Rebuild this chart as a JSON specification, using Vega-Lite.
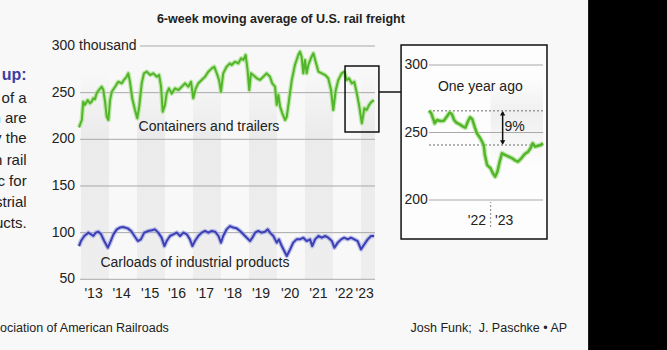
{
  "$schema": "https://vega.github.io/schema/vega-lite/v6.json",
  "width": 667,
  "height": 350,
  "autosize": {"type": "none"},
  "padding": 0,
  "background": "#f8f8f8",
  "config": {
    "view": {"stroke": null},
    "text": {"font": "Liberation Sans, Arial, sans-serif", "fontSize": 14, "color": "#222222", "baseline": "middle"}
  },
  "resolve": {"scale": {"x": "independent", "y": "independent"}},
  "datasets": {
    "green": [
      {"t":2012.93,"v":212.9},{"t":2013.03,"v":220.7},{"t":2013.08,"v":240.3},{"t":2013.14,"v":236.8},{"t":2013.24,"v":242},{"t":2013.32,"v":238.6},{"t":2013.38,"v":240.3},{"t":2013.44,"v":244},{"t":2013.5,"v":243},{"t":2013.56,"v":249.3},{"t":2013.64,"v":252.8},{"t":2013.74,"v":256.4},{"t":2013.8,"v":252.8},{"t":2013.86,"v":240.3},{"t":2013.92,"v":224.2},{"t":2013.98,"v":220.7},
      {"t":2014.04,"v":242},{"t":2014.1,"v":251},{"t":2014.22,"v":256.4},{"t":2014.33,"v":261.7},{"t":2014.46,"v":260},{"t":2014.55,"v":264.3},{"t":2014.63,"v":267},{"t":2014.69,"v":270.7},{"t":2014.75,"v":261.7},{"t":2014.83,"v":244},{"t":2014.93,"v":231.4},
      {"t":2015.01,"v":222.5},{"t":2015.08,"v":235},{"t":2015.17,"v":260},{"t":2015.25,"v":270.7},{"t":2015.35,"v":272.5},{"t":2015.47,"v":268.9},{"t":2015.58,"v":270.7},{"t":2015.71,"v":267},{"t":2015.79,"v":269},{"t":2015.86,"v":256.4},{"t":2015.92,"v":229.6},
      {"t":2016.0,"v":236.8},{"t":2016.06,"v":249.3},{"t":2016.14,"v":254.6},{"t":2016.24,"v":249},{"t":2016.36,"v":254.6},{"t":2016.48,"v":252.8},{"t":2016.6,"v":256.4},{"t":2016.72,"v":260},{"t":2016.83,"v":256.4},{"t":2016.93,"v":261.7},
      {"t":2017.01,"v":244},{"t":2017.1,"v":254.6},{"t":2017.19,"v":260},{"t":2017.31,"v":263.6},{"t":2017.43,"v":267},{"t":2017.55,"v":272.5},{"t":2017.67,"v":276},{"t":2017.76,"v":277.8},{"t":2017.85,"v":270.7},{"t":2017.93,"v":263.6},
      {"t":2018.0,"v":251},{"t":2018.08,"v":270.7},{"t":2018.2,"v":277.8},{"t":2018.32,"v":281.4},{"t":2018.38,"v":279.6},{"t":2018.5,"v":283.2},{"t":2018.62,"v":281.4},{"t":2018.72,"v":286.8},{"t":2018.8,"v":285},{"t":2018.88,"v":290.4},{"t":2018.95,"v":274.3},
      {"t":2019.01,"v":252.8},{"t":2019.07,"v":270.7},{"t":2019.15,"v":268.9},{"t":2019.28,"v":265.4},{"t":2019.39,"v":263.6},{"t":2019.51,"v":267},{"t":2019.63,"v":270.7},{"t":2019.75,"v":267},{"t":2019.83,"v":260},{"t":2019.93,"v":256.4},{"t":2019.99,"v":236.8},
      {"t":2020.05,"v":247.5},{"t":2020.11,"v":235},{"t":2020.19,"v":227.9},{"t":2020.29,"v":220.7},{"t":2020.35,"v":224.2},{"t":2020.43,"v":242},{"t":2020.53,"v":263.6},{"t":2020.64,"v":279.6},{"t":2020.76,"v":290.4},{"t":2020.82,"v":293.9},{"t":2020.88,"v":288.6},{"t":2020.94,"v":270.7},
      {"t":2021.0,"v":285},{"t":2021.06,"v":270.7},{"t":2021.12,"v":279.6},{"t":2021.21,"v":286.8},{"t":2021.3,"v":292.2},{"t":2021.38,"v":283.2},{"t":2021.48,"v":272.5},{"t":2021.6,"v":270.7},{"t":2021.72,"v":268.9},{"t":2021.83,"v":265.4},{"t":2021.93,"v":252.8},
      {"t":2022.01,"v":231.4},{"t":2022.1,"v":252.8},{"t":2022.19,"v":263.6},{"t":2022.31,"v":270.7},{"t":2022.4,"v":272.5},{"t":2022.49,"v":263.6},{"t":2022.57,"v":265.4},{"t":2022.67,"v":260},{"t":2022.76,"v":261.7},{"t":2022.85,"v":249.3},{"t":2022.93,"v":236.8},
      {"t":2023.03,"v":217.2},{"t":2023.12,"v":233.2},{"t":2023.2,"v":231.4},{"t":2023.29,"v":236.8},{"t":2023.38,"v":240.3},{"t":2023.46,"v":242}
    ],
    "blue": [
      {"t":2012.93,"v":85.6},{"t":2013.0,"v":91},{"t":2013.12,"v":96.4},{"t":2013.26,"v":100},{"t":2013.36,"v":98.2},{"t":2013.44,"v":96.4},{"t":2013.53,"v":100},{"t":2013.62,"v":101},{"t":2013.72,"v":98.2},{"t":2013.83,"v":91},{"t":2013.96,"v":83.9},
      {"t":2014.04,"v":89.3},{"t":2014.16,"v":98.2},{"t":2014.28,"v":103.5},{"t":2014.39,"v":105.4},{"t":2014.51,"v":106},{"t":2014.67,"v":104.6},{"t":2014.79,"v":101.8},{"t":2014.91,"v":96.4},
      {"t":2015.03,"v":91},{"t":2015.14,"v":92.8},{"t":2015.26,"v":100},{"t":2015.41,"v":101.8},{"t":2015.53,"v":102.5},{"t":2015.64,"v":103.5},{"t":2015.76,"v":100},{"t":2015.88,"v":94.6},{"t":2015.98,"v":85.6},
      {"t":2016.06,"v":91},{"t":2016.18,"v":96.4},{"t":2016.3,"v":98.2},{"t":2016.42,"v":100},{"t":2016.54,"v":96.4},{"t":2016.66,"v":100},{"t":2016.78,"v":98.2},{"t":2016.89,"v":92.8},{"t":2016.98,"v":85.6},
      {"t":2017.07,"v":91},{"t":2017.19,"v":96.4},{"t":2017.31,"v":100},{"t":2017.43,"v":101.8},{"t":2017.55,"v":100},{"t":2017.67,"v":101.8},{"t":2017.79,"v":101},{"t":2017.91,"v":96.4},
      {"t":2018.0,"v":89.3},{"t":2018.08,"v":96.4},{"t":2018.2,"v":103.5},{"t":2018.32,"v":107},{"t":2018.44,"v":105.4},{"t":2018.56,"v":104.6},{"t":2018.68,"v":101.8},{"t":2018.8,"v":98.2},{"t":2018.92,"v":94.6},
      {"t":2019.04,"v":91},{"t":2019.12,"v":94.6},{"t":2019.22,"v":100},{"t":2019.33,"v":101.8},{"t":2019.45,"v":100},{"t":2019.57,"v":101},{"t":2019.67,"v":103.5},{"t":2019.75,"v":100},{"t":2019.87,"v":96.4},{"t":2019.99,"v":89.3},
      {"t":2020.07,"v":92.8},{"t":2020.17,"v":85.6},{"t":2020.26,"v":80.3},{"t":2020.35,"v":74.9},{"t":2020.47,"v":82.1},{"t":2020.58,"v":89.3},{"t":2020.7,"v":92.8},{"t":2020.82,"v":92.8},{"t":2020.94,"v":94.6},
      {"t":2021.06,"v":91},{"t":2021.18,"v":92.8},{"t":2021.26,"v":85.6},{"t":2021.36,"v":92.8},{"t":2021.48,"v":96.4},{"t":2021.6,"v":94.6},{"t":2021.72,"v":96.4},{"t":2021.83,"v":94.6},{"t":2021.96,"v":91},
      {"t":2022.05,"v":83.9},{"t":2022.17,"v":89.3},{"t":2022.29,"v":92.8},{"t":2022.4,"v":94.6},{"t":2022.53,"v":92.8},{"t":2022.64,"v":94.6},{"t":2022.76,"v":92.8},{"t":2022.88,"v":91},
      {"t":2023.0,"v":82.1},{"t":2023.12,"v":87.5},{"t":2023.24,"v":92.8},{"t":2023.36,"v":96.4},{"t":2023.47,"v":96.4}
    ],
    "inset": [
      {"t":2022.46,"v":266.2},{"t":2022.48,"v":264.2},{"t":2022.51,"v":256.8},{"t":2022.53,"v":259.3},{"t":2022.56,"v":258.5},{"t":2022.59,"v":258.7},{"t":2022.62,"v":262.2},{"t":2022.64,"v":264.7},{"t":2022.66,"v":263.7},{"t":2022.68,"v":259.3},{"t":2022.7,"v":257.3},{"t":2022.73,"v":256},{"t":2022.76,"v":254.3},{"t":2022.78,"v":253.6},{"t":2022.8,"v":258},{"t":2022.82,"v":261.3},{"t":2022.84,"v":259.8},{"t":2022.86,"v":254.3},{"t":2022.88,"v":249.4},{"t":2022.91,"v":245.7},{"t":2022.94,"v":240.7},{"t":2022.95,"v":233.3},{"t":2022.97,"v":225.9},
      {"t":2023.0,"v":223.5},{"t":2023.02,"v":219.8},{"t":2023.04,"v":217.3},{"t":2023.06,"v":221},{"t":2023.08,"v":228.4},{"t":2023.1,"v":234.6},{"t":2023.13,"v":233.3},{"t":2023.16,"v":232.1},{"t":2023.19,"v":230.9},{"t":2023.21,"v":229.6},{"t":2023.24,"v":228.4},{"t":2023.27,"v":230.9},{"t":2023.3,"v":234.1},{"t":2023.33,"v":235.8},{"t":2023.35,"v":238.3},{"t":2023.37,"v":242},{"t":2023.39,"v":239.5},{"t":2023.41,"v":240},{"t":2023.44,"v":240.7},{"t":2023.46,"v":242}
    ]
  },
  "layer": [
    {
      "data": {"values": [{"a":2013,"b":2014},{"a":2015,"b":2016},{"a":2017,"b":2018},{"a":2019,"b":2020},{"a":2021,"b":2022},{"a":2023,"b":2023.5}]},
      "mark": {"type": "rect", "color": {"gradient": "linear", "x1": 0, "y1": 0, "x2": 0, "y2": 1, "stops": [{"offset": 0, "color": "#f8f8f8"}, {"offset": 0.3, "color": "#ebebeb"}, {"offset": 1, "color": "#eeeeee"}]}},
      "encoding": {
        "x": {"field": "a", "type": "quantitative", "scale": {"domain": [2012.93, 2023.5], "range": [79, 375], "nice": false, "zero": false}, "axis": null},
        "x2": {"field": "b"},
        "y": {"datum": 272, "type": "quantitative", "scale": {"domain": [50, 300], "range": [279.3, 46], "nice": false, "zero": false}, "axis": null},
        "y2": {"datum": 50}
      }
    },
    {
      "data": {"values": [{"v":300,"a":2015.11,"b":2023.5},{"v":250,"a":2012.965,"b":2023.5},{"v":200,"a":2012.965,"b":2023.5},{"v":150,"a":2012.965,"b":2023.5},{"v":100,"a":2012.965,"b":2023.5},{"v":50,"a":2012.965,"b":2023.5}]},
      "mark": {"type": "rule", "color": "#a9a9a9", "strokeWidth": 1},
      "encoding": {
        "x": {"field": "a", "type": "quantitative", "scale": {"domain": [2012.93, 2023.5], "range": [79, 375], "nice": false, "zero": false}, "axis": null},
        "x2": {"field": "b"},
        "y": {"field": "v", "type": "quantitative", "scale": {"domain": [50, 300], "range": [279.3, 46], "nice": false, "zero": false}, "axis": null}
      }
    },
    {
      "data": {"name": "green"},
      "mark": {"type": "line", "color": "#a8df8a", "strokeWidth": 4.5, "opacity": 0.7, "strokeJoin": "round"},
      "encoding": {
        "x": {"field": "t", "type": "quantitative", "scale": {"domain": [2012.93, 2023.5], "range": [79, 375], "nice": false, "zero": false}, "axis": null},
        "y": {"field": "v", "type": "quantitative", "scale": {"domain": [50, 300], "range": [279.3, 46], "nice": false, "zero": false}, "axis": null}
      }
    },
    {
      "data": {"name": "green"},
      "mark": {"type": "line", "color": "#52b52a", "strokeWidth": 2, "strokeJoin": "round"},
      "encoding": {
        "x": {"field": "t", "type": "quantitative", "scale": {"domain": [2012.93, 2023.5], "range": [79, 375], "nice": false, "zero": false}, "axis": null},
        "y": {"field": "v", "type": "quantitative", "scale": {"domain": [50, 300], "range": [279.3, 46], "nice": false, "zero": false}, "axis": null}
      }
    },
    {
      "data": {"name": "blue"},
      "mark": {"type": "line", "color": "#a3a6e3", "strokeWidth": 4.5, "opacity": 0.7, "strokeJoin": "round"},
      "encoding": {
        "x": {"field": "t", "type": "quantitative", "scale": {"domain": [2012.93, 2023.5], "range": [79, 375], "nice": false, "zero": false}, "axis": null},
        "y": {"field": "v", "type": "quantitative", "scale": {"domain": [50, 300], "range": [279.3, 46], "nice": false, "zero": false}, "axis": null}
      }
    },
    {
      "data": {"name": "blue"},
      "mark": {"type": "line", "color": "#3b3fb3", "strokeWidth": 2, "strokeJoin": "round"},
      "encoding": {
        "x": {"field": "t", "type": "quantitative", "scale": {"domain": [2012.93, 2023.5], "range": [79, 375], "nice": false, "zero": false}, "axis": null},
        "y": {"field": "v", "type": "quantitative", "scale": {"domain": [50, 300], "range": [279.3, 46], "nice": false, "zero": false}, "axis": null}
      }
    },
    {
      "data": {"values": [{"x":2012.79,"y":300,"label":"300"},{"x":2012.79,"y":250,"label":"250"},{"x":2012.79,"y":200,"label":"200"},{"x":2012.79,"y":150,"label":"150"},{"x":2012.79,"y":100,"label":"100"},{"x":2012.79,"y":50,"label":"50"}]},
      "mark": {"type": "text", "align": "right"},
      "encoding": {
        "x": {"field": "x", "type": "quantitative", "scale": {"domain": [2012.93, 2023.5], "range": [79, 375], "nice": false, "zero": false}, "axis": null},
        "y": {"field": "y", "type": "quantitative", "scale": {"domain": [50, 300], "range": [279.3, 46], "nice": false, "zero": false}, "axis": null},
        "text": {"field": "label"}
      }
    },
    {
      "data": {"values": [{"x":2012.93,"y":300,"label":"thousand"}]},
      "mark": {"type": "text", "align": "left"},
      "encoding": {
        "x": {"field": "x", "type": "quantitative", "scale": {"domain": [2012.93, 2023.5], "range": [79, 375], "nice": false, "zero": false}, "axis": null},
        "y": {"field": "y", "type": "quantitative", "scale": {"domain": [50, 300], "range": [279.3, 46], "nice": false, "zero": false}, "axis": null},
        "text": {"field": "label"}
      }
    },
    {
      "data": {"values": [{"x":2013.45,"label":"'13"},{"x":2014.45,"label":"'14"},{"x":2015.47,"label":"'15"},{"x":2016.43,"label":"'16"},{"x":2017.43,"label":"'17"},{"x":2018.43,"label":"'18"},{"x":2019.43,"label":"'19"},{"x":2020.47,"label":"'20"},{"x":2021.48,"label":"'21"},{"x":2022.4,"label":"'22"},{"x":2023.13,"label":"'23"}]},
      "mark": {"type": "text", "align": "center"},
      "encoding": {
        "x": {"field": "x", "type": "quantitative", "scale": {"domain": [2012.93, 2023.5], "range": [79, 375], "nice": false, "zero": false}, "axis": null},
        "y": {"datum": 34.7, "type": "quantitative", "scale": {"domain": [50, 300], "range": [279.3, 46], "nice": false, "zero": false}, "axis": null},
        "text": {"field": "label"}
      }
    },
    {
      "data": {"values": [{"x":2017.57,"y":212.9,"label":"Containers and trailers"},{"x":2017.07,"y":67.7,"label":"Carloads of industrial products"}]},
      "mark": {"type": "text", "align": "center"},
      "encoding": {
        "x": {"field": "x", "type": "quantitative", "scale": {"domain": [2012.93, 2023.5], "range": [79, 375], "nice": false, "zero": false}, "axis": null},
        "y": {"field": "y", "type": "quantitative", "scale": {"domain": [50, 300], "range": [279.3, 46], "nice": false, "zero": false}, "axis": null},
        "text": {"field": "label"}
      }
    },
    {
      "data": {"values": [{"x":2020.14,"y":329,"label":"6-week moving average of U.S. rail freight"}]},
      "mark": {"type": "text", "align": "center", "fontWeight": "bold", "fontSize": 12.5},
      "encoding": {
        "x": {"field": "x", "type": "quantitative", "scale": {"domain": [2012.93, 2023.5], "range": [79, 375], "nice": false, "zero": false}, "axis": null},
        "y": {"field": "y", "type": "quantitative", "scale": {"domain": [50, 300], "range": [279.3, 46], "nice": false, "zero": false}, "axis": null},
        "text": {"field": "label"}
      }
    },
    {
      "data": {"values": [{"x":2011.06,"y":268.9,"label":"g up:"}]},
      "mark": {"type": "text", "align": "right", "fontWeight": "bold", "fontSize": 16, "color": "#3d3da6"},
      "encoding": {
        "x": {"field": "x", "type": "quantitative", "scale": {"domain": [2012.93, 2023.5], "range": [79, 375], "nice": false, "zero": false}, "axis": null},
        "y": {"field": "y", "type": "quantitative", "scale": {"domain": [50, 300], "range": [279.3, 46], "nice": false, "zero": false}, "axis": null},
        "text": {"field": "label"}
      }
    },
    {
      "data": {"values": [{"x":2011.06,"y":244.3,"label":"s of a"},{"x":2011.06,"y":222.8,"label":"n are"},{"x":2011.06,"y":200.9,"label":"y the"},{"x":2011.06,"y":177.8,"label":"n rail"},{"x":2011.06,"y":155.8,"label":"ic for"},{"x":2011.06,"y":132.8,"label":"strial"},{"x":2011.06,"y":110.8,"label":"ucts."}]},
      "mark": {"type": "text", "align": "right", "fontSize": 15},
      "encoding": {
        "x": {"field": "x", "type": "quantitative", "scale": {"domain": [2012.93, 2023.5], "range": [79, 375], "nice": false, "zero": false}, "axis": null},
        "y": {"field": "y", "type": "quantitative", "scale": {"domain": [50, 300], "range": [279.3, 46], "nice": false, "zero": false}, "axis": null},
        "text": {"field": "label"}
      }
    },
    {
      "data": {"values": [{"x":2010.11,"y":-2.2,"label":"ociation of American Railroads"}]},
      "mark": {"type": "text", "align": "left", "fontSize": 12.5},
      "encoding": {
        "x": {"field": "x", "type": "quantitative", "scale": {"domain": [2012.93, 2023.5], "range": [79, 375], "nice": false, "zero": false}, "axis": null},
        "y": {"field": "y", "type": "quantitative", "scale": {"domain": [50, 300], "range": [279.3, 46], "nice": false, "zero": false}, "axis": null},
        "text": {"field": "label"}
      }
    },
    {
      "data": {"values": [{"x":2030.36,"y":-2.2,"label":"Josh Funk;\u00a0\u00a0J. Paschke • AP"}]},
      "mark": {"type": "text", "align": "right", "fontSize": 12.5},
      "encoding": {
        "x": {"field": "x", "type": "quantitative", "scale": {"domain": [2012.93, 2023.5], "range": [79, 375], "nice": false, "zero": false}, "axis": null},
        "y": {"field": "y", "type": "quantitative", "scale": {"domain": [50, 300], "range": [279.3, 46], "nice": false, "zero": false}, "axis": null},
        "text": {"field": "label"}
      }
    },
    {
      "data": {"values": [{"a":2022.43,"b":2023.64,"lo":207.8,"hi":278.6}]},
      "mark": {"type": "rect", "fill": null, "fillOpacity": 0, "stroke": "#111111", "strokeWidth": 1.5},
      "encoding": {
        "x": {"field": "a", "type": "quantitative", "scale": {"domain": [2012.93, 2023.5], "range": [79, 375], "nice": false, "zero": false}, "axis": null},
        "x2": {"field": "b"},
        "y": {"field": "lo", "type": "quantitative", "scale": {"domain": [50, 300], "range": [279.3, 46], "nice": false, "zero": false}, "axis": null},
        "y2": {"field": "hi"}
      }
    },
    {
      "data": {"values": [{"a":2023.64,"b":2024.43,"v":250.7}]},
      "mark": {"type": "rule", "color": "#111111", "strokeWidth": 1.5},
      "encoding": {
        "x": {"field": "a", "type": "quantitative", "scale": {"domain": [2012.93, 2023.5], "range": [79, 375], "nice": false, "zero": false}, "axis": null},
        "x2": {"field": "b"},
        "y": {"field": "v", "type": "quantitative", "scale": {"domain": [50, 300], "range": [279.3, 46], "nice": false, "zero": false}, "axis": null}
      }
    },
    {
      "data": {"values": [{"a":2031.11,"b":2035,"lo":-40,"hi":380}]},
      "mark": {"type": "rect", "color": "#000000"},
      "encoding": {
        "x": {"field": "a", "type": "quantitative", "scale": {"domain": [2012.93, 2023.5], "range": [79, 375], "nice": false, "zero": false}, "axis": null},
        "x2": {"field": "b"},
        "y": {"field": "lo", "type": "quantitative", "scale": {"domain": [50, 300], "range": [279.3, 46], "nice": false, "zero": false}, "axis": null},
        "y2": {"field": "hi"}
      }
    },
    {
      "data": {"values": [{"a":2022.215,"b":2023.495,"lo":171.1,"hi":314.8}]},
      "mark": {"type": "rect", "fill": "#fdfdfd", "stroke": "#111111", "strokeWidth": 1.5},
      "encoding": {
        "x": {"field": "a", "type": "quantitative", "scale": {"domain": [2022.46, 2023.46], "range": [429, 543], "nice": false, "zero": false}, "axis": null},
        "x2": {"field": "b"},
        "y": {"field": "lo", "type": "quantitative", "scale": {"domain": [200, 300], "range": [200, 65], "nice": false, "zero": false}, "axis": null},
        "y2": {"field": "hi"}
      }
    },
    {
      "data": {"values": [{"a":2023.0,"b":2023.46,"lo":225,"hi":290}]},
      "mark": {"type": "rect", "color": {"gradient": "linear", "x1": 0, "y1": 0, "x2": 0, "y2": 1, "stops": [{"offset": 0, "color": "#fdfdfd"}, {"offset": 0.4, "color": "#efefef"}, {"offset": 1, "color": "#fdfdfd"}]}},
      "encoding": {
        "x": {"field": "a", "type": "quantitative", "scale": {"domain": [2022.46, 2023.46], "range": [429, 543], "nice": false, "zero": false}, "axis": null},
        "x2": {"field": "b"},
        "y": {"field": "lo", "type": "quantitative", "scale": {"domain": [200, 300], "range": [200, 65], "nice": false, "zero": false}, "axis": null},
        "y2": {"field": "hi"}
      }
    },
    {
      "data": {"values": [{"v":300},{"v":250},{"v":200}]},
      "mark": {"type": "rule", "color": "#a9a9a9", "strokeWidth": 1},
      "encoding": {
        "x": {"datum": 2022.46, "type": "quantitative", "scale": {"domain": [2022.46, 2023.46], "range": [429, 543], "nice": false, "zero": false}, "axis": null},
        "x2": {"datum": 2023.46},
        "y": {"field": "v", "type": "quantitative", "scale": {"domain": [200, 300], "range": [200, 65], "nice": false, "zero": false}, "axis": null}
      }
    },
    {
      "data": {"values": [{"v":266.2},{"v":240.7}]},
      "mark": {"type": "rule", "color": "#9a9a9a", "strokeWidth": 1.5, "strokeDash": [2, 2]},
      "encoding": {
        "x": {"datum": 2022.46, "type": "quantitative", "scale": {"domain": [2022.46, 2023.46], "range": [429, 543], "nice": false, "zero": false}, "axis": null},
        "x2": {"datum": 2023.46},
        "y": {"field": "v", "type": "quantitative", "scale": {"domain": [200, 300], "range": [200, 65], "nice": false, "zero": false}, "axis": null}
      }
    },
    {
      "data": {"values": [{"t":2023.0,"lo":180,"hi":198.5}]},
      "mark": {"type": "rule", "color": "#9a9a9a", "strokeWidth": 1.2, "strokeDash": [2, 2]},
      "encoding": {
        "x": {"field": "t", "type": "quantitative", "scale": {"domain": [2022.46, 2023.46], "range": [429, 543], "nice": false, "zero": false}, "axis": null},
        "y": {"field": "lo", "type": "quantitative", "scale": {"domain": [200, 300], "range": [200, 65], "nice": false, "zero": false}, "axis": null},
        "y2": {"field": "hi"}
      }
    },
    {
      "data": {"name": "inset"},
      "mark": {"type": "line", "color": "#a8df8a", "strokeWidth": 5, "opacity": 0.7, "strokeJoin": "round"},
      "encoding": {
        "x": {"field": "t", "type": "quantitative", "scale": {"domain": [2022.46, 2023.46], "range": [429, 543], "nice": false, "zero": false}, "axis": null},
        "y": {"field": "v", "type": "quantitative", "scale": {"domain": [200, 300], "range": [200, 65], "nice": false, "zero": false}, "axis": null}
      }
    },
    {
      "data": {"name": "inset"},
      "mark": {"type": "line", "color": "#52b52a", "strokeWidth": 2.5, "strokeJoin": "round"},
      "encoding": {
        "x": {"field": "t", "type": "quantitative", "scale": {"domain": [2022.46, 2023.46], "range": [429, 543], "nice": false, "zero": false}, "axis": null},
        "y": {"field": "v", "type": "quantitative", "scale": {"domain": [200, 300], "range": [200, 65], "nice": false, "zero": false}, "axis": null}
      }
    },
    {
      "data": {"values": [{"t":2023.106,"lo":242,"hi":265}]},
      "mark": {"type": "rule", "color": "#111111", "strokeWidth": 1.5},
      "encoding": {
        "x": {"field": "t", "type": "quantitative", "scale": {"domain": [2022.46, 2023.46], "range": [429, 543], "nice": false, "zero": false}, "axis": null},
        "y": {"field": "lo", "type": "quantitative", "scale": {"domain": [200, 300], "range": [200, 65], "nice": false, "zero": false}, "axis": null},
        "y2": {"field": "hi"}
      }
    },
    {
      "data": {"values": [{"t":2023.106,"v":264.3,"s":"triangle-up"},{"t":2023.106,"v":242.6,"s":"triangle-down"}]},
      "mark": {"type": "point", "filled": true, "color": "#111111", "size": 28, "opacity": 1},
      "encoding": {
        "x": {"field": "t", "type": "quantitative", "scale": {"domain": [2022.46, 2023.46], "range": [429, 543], "nice": false, "zero": false}, "axis": null},
        "y": {"field": "v", "type": "quantitative", "scale": {"domain": [200, 300], "range": [200, 65], "nice": false, "zero": false}, "axis": null},
        "shape": {"field": "s", "type": "nominal", "scale": {"domain": ["triangle-up", "triangle-down"], "range": ["triangle-up", "triangle-down"]}, "legend": null}
      }
    },
    {
      "data": {"values": [{"x":2022.91,"y":283.7,"label":"One year ago"},{"x":2023.21,"y":254,"label":"9%"},{"x":2022.88,"y":184.4,"label":"'22"},{"x":2023.12,"y":184.4,"label":"'23"}]},
      "mark": {"type": "text", "align": "center"},
      "encoding": {
        "x": {"field": "x", "type": "quantitative", "scale": {"domain": [2022.46, 2023.46], "range": [429, 543], "nice": false, "zero": false}, "axis": null},
        "y": {"field": "y", "type": "quantitative", "scale": {"domain": [200, 300], "range": [200, 65], "nice": false, "zero": false}, "axis": null},
        "text": {"field": "label"}
      }
    },
    {
      "data": {"values": [{"y":300,"label":"300"},{"y":250,"label":"250"},{"y":200,"label":"200"}]},
      "mark": {"type": "text", "align": "right"},
      "encoding": {
        "x": {"datum": 2022.45, "type": "quantitative", "scale": {"domain": [2022.46, 2023.46], "range": [429, 543], "nice": false, "zero": false}, "axis": null},
        "y": {"field": "y", "type": "quantitative", "scale": {"domain": [200, 300], "range": [200, 65], "nice": false, "zero": false}, "axis": null},
        "text": {"field": "label"}
      }
    }
  ]
}
